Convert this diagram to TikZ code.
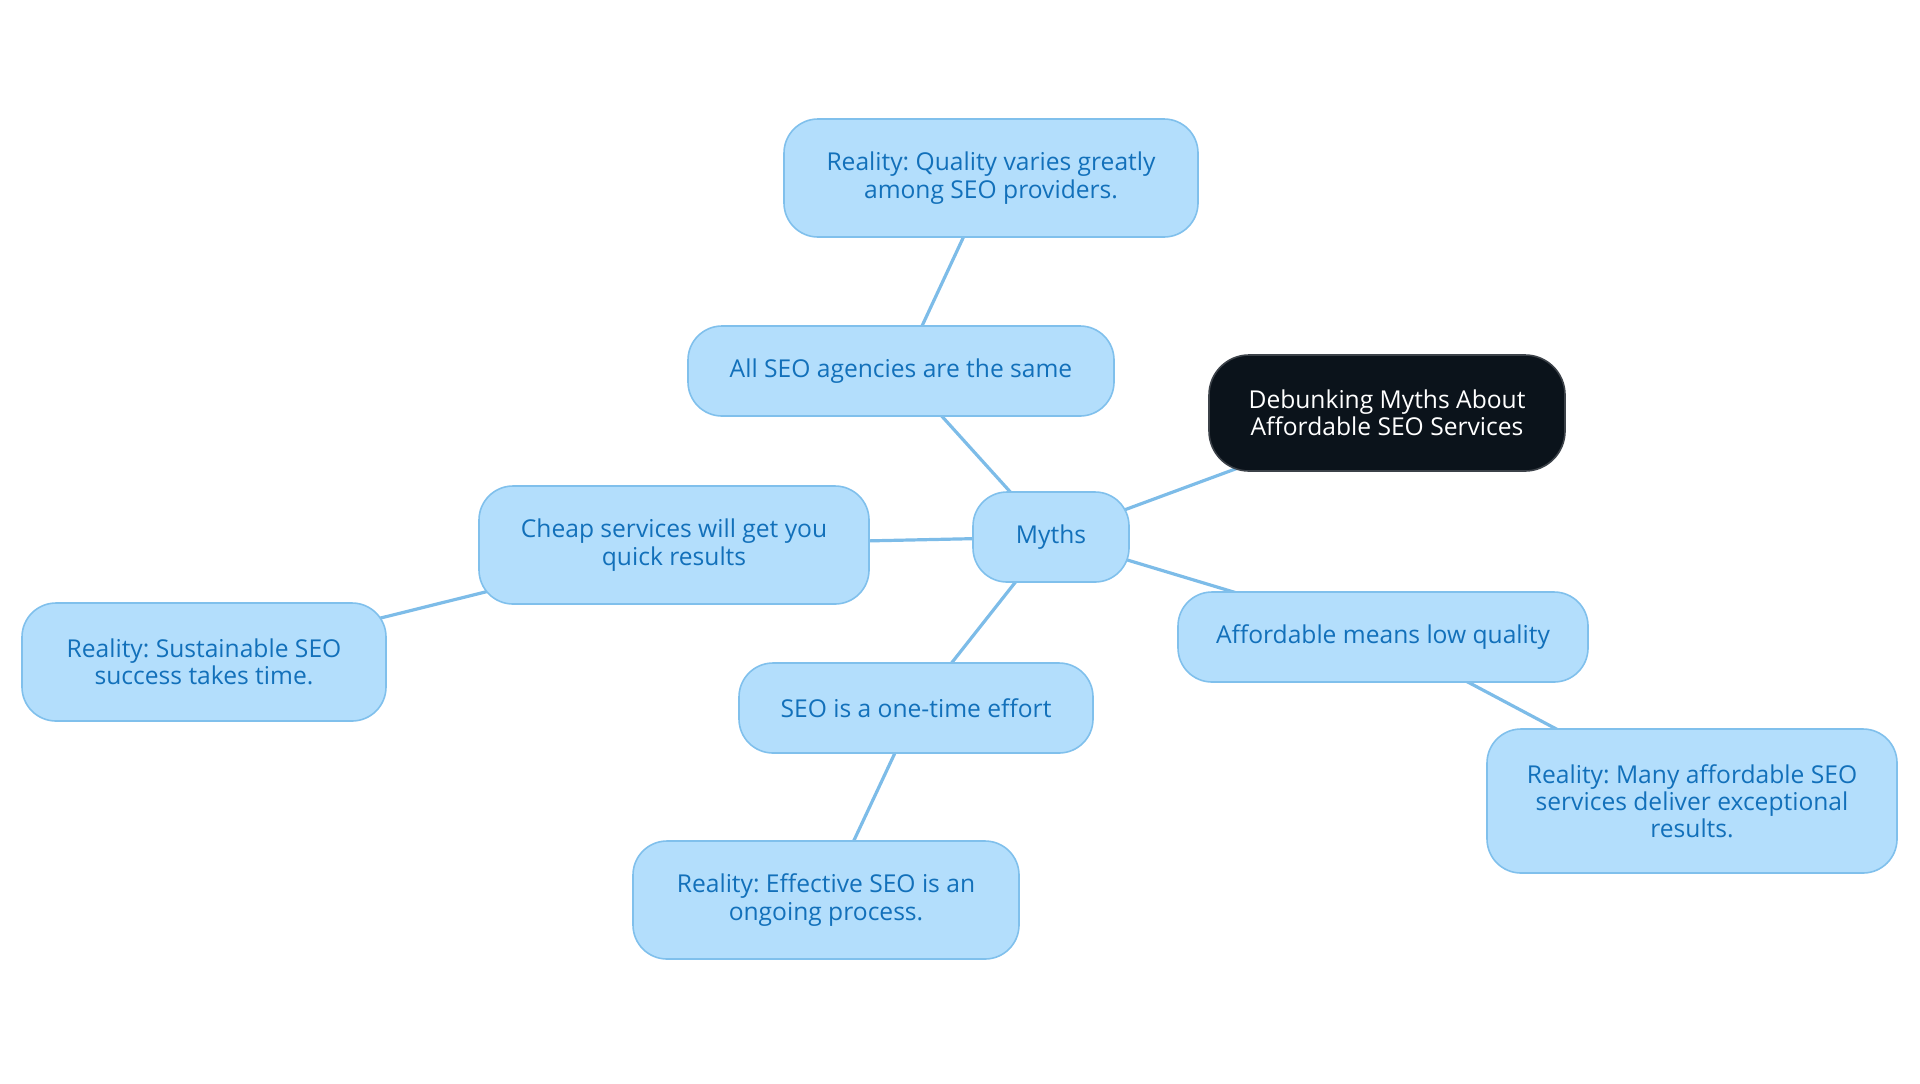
\documentclass[tikz,border=0pt]{standalone}
\usepackage{fontspec}
\setmainfont{Open Sans}
\usetikzlibrary{backgrounds}
\definecolor{boxfill}{HTML}{B3DEFC}
\definecolor{boxline}{HTML}{80C0EC}
\definecolor{boxtext}{HTML}{1270BA}
\definecolor{linkcol}{HTML}{7DBCE8}
\definecolor{rootfill}{HTML}{0B131B}
\frenchspacing

\begin{document}
\begin{tikzpicture}[
  x=0.5pt, y=-0.5pt,
  every node/.style={inner sep=1pt},
  topic/.style={draw=boxline, line width=0.8pt, fill=boxfill, text=boxtext,
    rounded corners=17pt, align=center, font=\fontsize{12.3}{13.6}\selectfont},
  root/.style={draw=rootfill!80!white, line width=0.8pt, fill=rootfill, text=white,
    rounded corners=20pt, align=center, font=\fontsize{12.3}{13.6}\selectfont},
  link/.style={draw=linkcol, line width=1.6pt}]

  \useasboundingbox (0,0) rectangle (1920,1083);

  % nodes
  \node[root, minimum width=178pt, minimum height=58pt] (deb) at (1387,413)
    {Debunking Myths About\\Affordable SEO Services};
  \node[topic, minimum width=78pt, minimum height=45pt] (myths) at (1051,537) {Myths};
  \node[topic, minimum width=213pt, minimum height=45pt] (same) at (901,371)
    {All SEO agencies are the same};
  \node[topic, minimum width=207pt, minimum height=59pt] (quality) at (991,178)
    {Reality: Quality varies greatly\\among SEO providers.};
  \node[topic, minimum width=195pt, minimum height=59pt] (cheap) at (674,545)
    {Cheap services will get you\\quick results};
  \node[topic, minimum width=182pt, minimum height=59pt] (sustain) at (204,662)
    {Reality: Sustainable SEO\\success takes time.};
  \node[topic, minimum width=177pt, minimum height=45pt] (onetime) at (916,708)
    {SEO is a one-time effort};
  \node[topic, minimum width=193pt, minimum height=59pt] (ongoing) at (826,900)
    {Reality: Effective SEO is an\\ongoing process.};
  \node[topic, minimum width=205pt, minimum height=45pt] (afford) at (1383,637)
    {Affordable means low quality};
  \node[topic, minimum width=205pt, minimum height=72pt] (deliver) at (1692,801)
    {Reality: Many affordable SEO\\services deliver exceptional\\results.};

  % connectors
  \begin{scope}[on background layer]
    \draw[link] (myths.center) -- (deb.center);
    \draw[link] (myths.center) -- (same.center);
    \draw[link] (same.center) -- (quality.center);
    \draw[link] (myths.center) -- (cheap.center);
    \draw[link] (cheap.center) -- (sustain.center);
    \draw[link] (myths.center) -- (onetime.center);
    \draw[link] (onetime.center) -- (ongoing.center);
    \draw[link] (myths.center) -- (afford.center);
    \draw[link] (afford.center) -- (deliver.center);
  \end{scope}
\end{tikzpicture}
\end{document}
